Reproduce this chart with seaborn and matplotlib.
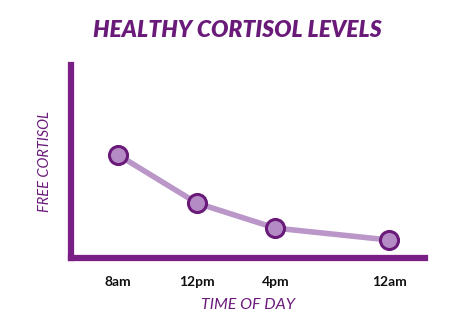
import matplotlib
matplotlib.use("Agg")
import matplotlib.pyplot as plt
import seaborn as sns
import pandas as pd

times = ["8am", "12pm", "4pm", "12am"]
positions = [0, 1, 2, 3.45]
cortisol = [53.4, 28.5, 15.5, 9.3]

df = pd.DataFrame({"pos": positions, "cortisol": cortisol, "time": times})

sns.set_theme(style="white")
plt.rcParams['font.family'] = ['Lato', 'DejaVu Sans']

purple = "#7A1F85"
dark = "#6A1B7A"
line_c = "#BA96C9"
fill_c = "#B58BC6"

fig = plt.figure(figsize=(4.74, 3.29), dpi=100)
ax = fig.add_axes([0.150, 0.216, 0.747, 0.586])

sns.lineplot(data=df, x="pos", y="cortisol", ax=ax, color=line_c, linewidth=4,
             marker="o", markersize=13, markerfacecolor=fill_c,
             markeredgecolor=dark, markeredgewidth=2.2)

ax.set_xlim(-0.6, 3.91)
ax.set_ylim(0, 100)
ax.set_xticks(positions)
ax.set_xticklabels(times, fontsize=10, fontweight="bold", color="#111111")
ax.set_yticks([])
ax.tick_params(axis="x", length=0, pad=13)

for s in ["top", "right"]:
    ax.spines[s].set_visible(False)
for s in ["left", "bottom"]:
    ax.spines[s].set_color(purple)
    ax.spines[s].set_linewidth(4.5)

ax.set_xlabel("TIME OF DAY", fontsize=11.5, fontstyle="italic", color=dark, labelpad=7)
ax.set_ylabel("FREE CORTISOL", fontsize=10.5, fontstyle="italic", color=dark, labelpad=14)

fig.text(0.5, 0.906, "HEALTHY CORTISOL LEVELS", ha="center", va="center",
         fontsize=16.5, fontweight="heavy", fontstyle="italic", color=dark)

fig.savefig("out.png", dpi=100, facecolor="white")
